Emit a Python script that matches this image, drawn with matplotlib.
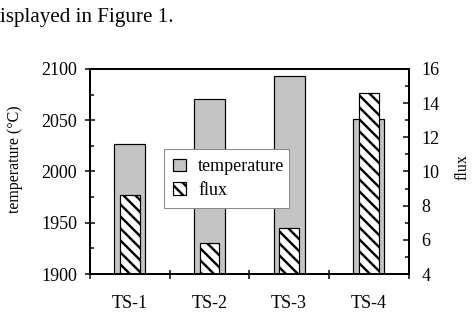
import numpy as np
import matplotlib.pyplot as plt
from matplotlib.ticker import MultipleLocator, FixedLocator

categories = ['TS-1', 'TS-2', 'TS-3', 'TS-4']
temperature = [2027, 2071, 2093, 2051]
flux = [8.6, 5.8, 6.7, 14.6]

plt.rcParams['font.family'] = 'Liberation Serif'
plt.rcParams['hatch.linewidth'] = 2.4

# dpi 72 so points == pixels
fig = plt.figure(figsize=(474 / 72, 326 / 72), dpi=72)
ax = fig.add_axes([0.190, 0.1595, 0.672, 0.629])
ax2 = ax.twinx()

x = np.arange(len(categories))
b1 = ax.bar(x, temperature, width=0.39, bottom=0, color='#c4c4c4',
            edgecolor='black', linewidth=1.2, label='temperature')
b2 = ax2.bar(x, flux, width=0.25, color='white', edgecolor='black',
             hatch='\\\\', linewidth=1.2, label='flux')

ax.set_ylim(1900, 2100)
ax2.set_ylim(4, 16)
ax.set_xlim(-0.5, 3.5)

# category ticks at the boundaries, labels in the middle
ax.xaxis.set_major_locator(FixedLocator([-0.5, 0.5, 1.5, 2.5, 3.5]))
ax.xaxis.set_minor_locator(FixedLocator(x))
ax.set_xticklabels([])
ax.set_xticklabels(categories, minor=True)
ax.tick_params(axis='x', which='major', direction='inout', length=9, width=1.5)
ax.tick_params(axis='x', which='minor', length=0, pad=21, labelsize=18)

ax.yaxis.set_major_locator(MultipleLocator(50))
ax.yaxis.set_minor_locator(MultipleLocator(25))
ax.tick_params(axis='y', which='major', direction='inout', length=10, width=1.5,
               labelsize=18, pad=8)
ax.tick_params(axis='y', which='minor', direction='in', length=4, width=1.5)

ax2.yaxis.set_major_locator(MultipleLocator(2))
ax2.yaxis.set_minor_locator(MultipleLocator(1))
ax2.tick_params(axis='y', which='major', direction='in', length=6, width=1.5,
                labelsize=18, pad=13)
ax2.tick_params(axis='y', which='minor', direction='in', length=4, width=1.5)

for a in (ax, ax2):
    for s in a.spines.values():
        s.set_linewidth(1.9)

ax.set_ylabel('temperature (°C)', fontsize=16)
ax.yaxis.set_label_coords(-0.21, 0.56)
ax2.set_ylabel('flux', fontsize=16)
ax2.yaxis.set_label_coords(1.144, 0.52)

ax2.legend([b1, b2], ['temperature', 'flux'], loc='lower left',
           bbox_to_anchor=(0.232, 0.323, 0.392, 0.278), mode='expand',
           borderaxespad=0, fontsize=18, handlelength=0.7, handleheight=0.7,
           handletextpad=0.7, labelspacing=0.35, fancybox=False, framealpha=1,
           edgecolor='#888888', borderpad=0.5)

fig.text(0.0, 1 - 22 / 326, 'isplayed in Figure 1.', fontsize=21, va='baseline')

fig.savefig('out.png', dpi=72)
